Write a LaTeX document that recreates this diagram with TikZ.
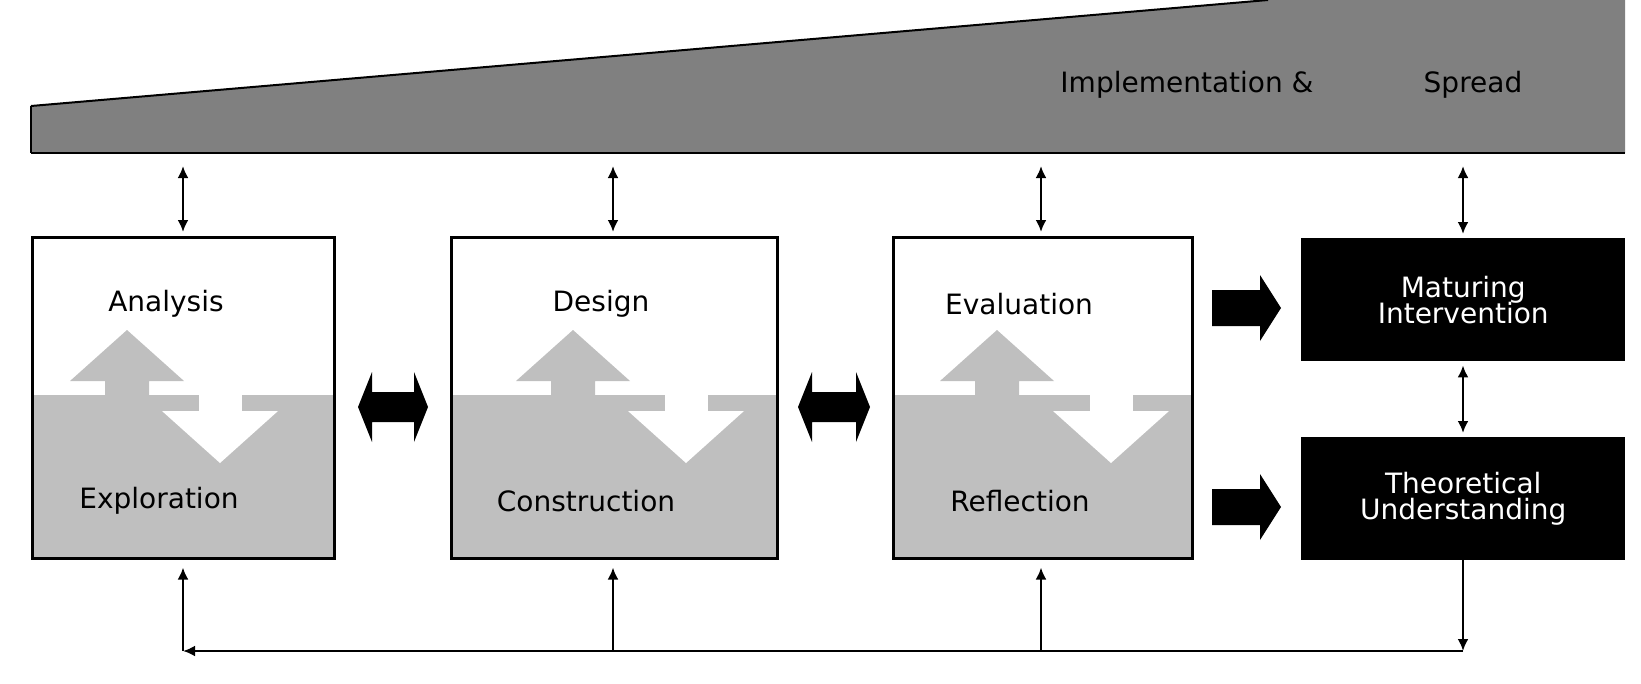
\documentclass[tikz,border=0pt]{standalone}
\usepackage{fontspec}
\setmainfont{DejaVu Sans}
\usetikzlibrary{arrows.meta,calc}
\begin{document}
\begin{tikzpicture}[x=1pt,y=-1pt,
  box/.style={draw=black,line width=2.5pt},
  lbl/.style={font=\fontsize{28}{32}\selectfont},
  wlbl/.style={font=\fontsize{28}{32}\selectfont,text=white,align=center},
  dbl/.style={line width=2.5pt,{Latex[length=12pt,width=11pt]}-{Latex[length=12pt,width=11pt]}},
  sgl/.style={line width=2.5pt,-{Latex[length=12pt,width=11pt]}},
  ln/.style={line width=2.5pt}]
\useasboundingbox (0,0) rectangle (1641,683);
% banner
\fill[black!50] (31,106) -- (1268,0) -- (1625,0) -- (1625,153) -- (31,153) -- cycle;
\draw[line width=2pt] (31,106) -- (1268,0);
\draw[line width=2.5pt] (31,153) -- (1625,153);
\draw[line width=2pt] (31,106) -- (31,153);
\node[lbl] (impl) at (1187,85) {Implementation \&};
\node[lbl] (spread) at (1473,85) {Spread};
\coordinate (ban1) at (183,166);
\coordinate (ban2) at (613,166);
\coordinate (ban3) at (1041,166);
\coordinate (ban4) at (1463,166);
% phase boxes
\foreach \n/\l/\r/\u/\d in {b1/31/333/96/189, b2/450/776/123/236, b3/892/1191/105/219}{
  \fill[black!25] (\l,395) rectangle (\r,557);
  \pgfmathsetmacro\ux{\l+\u}
  \pgfmathsetmacro\dx{\l+\d}
  \fill[white] (\dx-21.5,395) rectangle (\dx+21.5,412);
  \fill[white] (\dx-58,411) -- (\dx+58,411) -- (\dx,463) -- cycle;
  \fill[black!25] (\ux-22,396) -- (\ux-22,381) -- (\ux-57,381) -- (\ux,330) -- (\ux+57,381) -- (\ux+22,381) -- (\ux+22,396) -- cycle;
  \node[box,minimum width=\r-\l,minimum height=321,inner sep=0pt,anchor=north west] (\n) at (\l,236) {};
}
\node[lbl] (analysis) at (166,304) {Analysis};
\node[lbl] (exploration) at (159,501) {Exploration};
\node[lbl] (design) at (601,304) {Design};
\node[lbl] (construction) at (586,501) {Construction};
\node[lbl] (evaluation) at (1019,304) {Evaluation};
\node[lbl] (reflection) at (1020,501) {Reflection};
% output boxes
\node[fill=black,minimum width=324,minimum height=123,inner sep=0pt,anchor=north west] (mat) at (1301,238) {};
\node[wlbl] at (mat.center) {Maturing\\[-6pt]Intervention};
\node[fill=black,minimum width=324,minimum height=123,inner sep=0pt,anchor=north west] (theo) at (1301,437) {};
\node[wlbl] at (theo.center) {Theoretical\\[-6pt]Understanding};
% vertical double arrows
\draw[dbl] (ban1) -- ($(b1.north -| ban1)+(0,-4)$);
\draw[dbl] (ban2) -- ($(b2.north -| ban2)+(0,-4)$);
\draw[dbl] (ban3) -- ($(b3.north -| ban3)+(0,-4)$);
\draw[dbl] (ban4) -- ($(mat.north -| ban4)+(0,-4)$);
\draw[dbl] ($(mat.south -| ban4)+(0,4)$) -- ($(theo.north -| ban4)+(0,-4)$);
% big black double arrows
\foreach \a/\b in {358/428, 798/870}{
  \fill (\a,407) -- (\a+14,372) -- (\a+14,392) -- (\b-14,392) -- (\b-14,372) -- (\b,407) -- (\b-14,442) -- (\b-14,422) -- (\a+14,422) -- (\a+14,442) -- cycle;
}
% block arrows to outputs
\foreach \y in {308,507}{
  \fill (1212,\y-18) -- (1260,\y-18) -- (1260,\y-33) -- (1281,\y) -- (1260,\y+33) -- (1260,\y+18) -- (1212,\y+18) -- cycle;
}
% feedback loop
\coordinate (fb1) at (183,651);
\coordinate (fb2) at (613,651);
\coordinate (fb3) at (1041,651);
\coordinate (fb4) at (1463,651);
\draw[sgl] (theo.south -| fb4) -- (fb4);
\draw[sgl] (fb4) -- (fb1);
\draw[sgl] (fb1) -- ($(b1.south -| fb1)+(0,8)$);
\draw[sgl] (fb2) -- ($(b2.south -| fb2)+(0,8)$);
\draw[sgl] (fb3) -- ($(b3.south -| fb3)+(0,8)$);
\end{tikzpicture}
\end{document}
